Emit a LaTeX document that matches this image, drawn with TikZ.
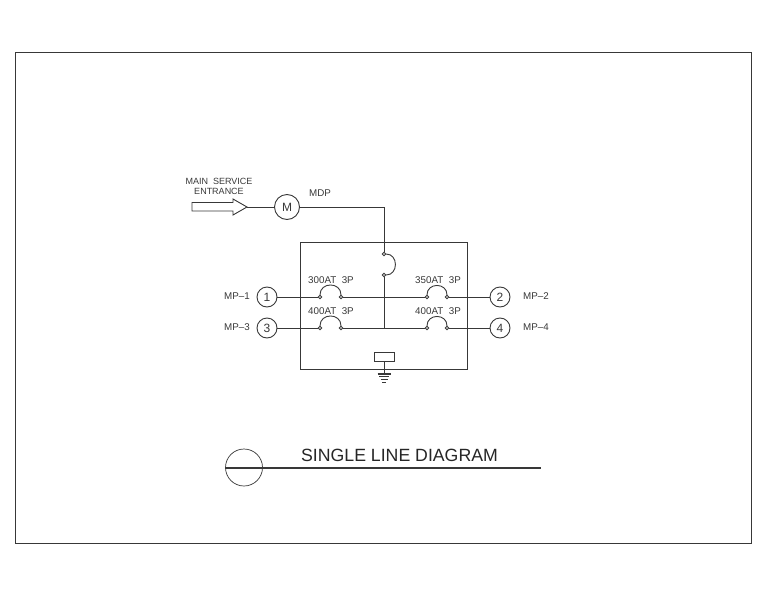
\documentclass[tikz,border=0pt]{standalone}
\usepackage{fontspec}
\setmainfont{Liberation Sans}
\definecolor{ink}{gray}{0.22}
\tikzset{
  wire/.style={draw=ink, line width=1pt},
  tag/.style={text=ink, font=\fontsize{9.8}{9.8}\selectfont, inner sep=0pt},
  numcircle/.style={draw=ink, line width=0.9pt, circle, minimum size=20pt, inner sep=0pt, text=ink, font=\fontsize{12}{12}\selectfont},
  pin/.style={draw=ink, line width=0.8pt, circle, minimum size=3.6pt, inner sep=0pt}
}
\begin{document}
\begin{tikzpicture}[x=1pt, y=-1pt]
    \useasboundingbox (0,0) rectangle (768,594);
    \node [draw=ink, line width=0.9pt, minimum width=736pt, minimum height=491pt, inner sep=0pt] (frame) at (383,297.5) {};
    \node [draw=ink, line width=0.9pt, minimum width=167pt, minimum height=127pt, inner sep=0pt] (panel) at (383.5,305.5) {};

    \begin{scope}[every node/.style={numcircle}]
      \node [minimum size=25pt] (m) at (287,207) {M};
      \node (n1) at (267,297) {1};
      \node (n3) at (267,328) {3};
      \node (n2) at (500,297) {2};
      \node (n4) at (500,328) {4};
    \end{scope}

    \begin{scope}[every node/.style={pin}]
      \node (a1) at (320,297) {};
      \node (b1) at (341,297) {};
      \node (a3) at (320,328) {};
      \node (b3) at (341,328) {};
      \node (a2) at (427,297) {};
      \node (b2) at (447,297) {};
      \node (a4) at (427,328) {};
      \node (b4) at (447,328) {};
      \node (top) at (384,254) {};
      \node (bot) at (384,275) {};
    \end{scope}

    \begin{scope}[every node/.style={tag}]
      \node [align=center, font=\fontsize{9}{9}\selectfont] (entrance) at (219,186.5) {MAIN\ \ SERVICE\\[0.3pt]ENTRANCE};
      \node (mdp) at (320,193) {MDP};
      \node (l1) at (331,280) {300AT\ \ 3P};
      \node (l3) at (331,311) {400AT\ \ 3P};
      \node (l2) at (438,280) {350AT\ \ 3P};
      \node (l4) at (438,311) {400AT\ \ 3P};
      \node (mp1) at (237,296) {MP--1};
      \node (mp3) at (237,327) {MP--3};
      \node (mp2) at (536,296) {MP--2};
      \node (mp4) at (536,327) {MP--4};
    \end{scope}

    % service arrow
    \coordinate (tip) at (247,207);
    \draw [draw=ink, line width=0.9pt] (192,202.5) -- (233,202.5) -- (233,199) -- (tip) -- (233,215) -- (233,211) -- (192,211) -- cycle;
    \draw [wire] (tip) -- (m);

    % bus
    \coordinate (corner) at (384,207);
    \coordinate (tee) at (384,328);
    \draw [wire] (m) -- (corner) -- (top);
    \draw [wire] (bot) -- (tee);
    \draw [wire] (n1) -- (a1) (b1) -- (a2) (b2) -- (n2);
    \draw [wire] (n3) -- (a3) (b3) -- (a4) (b4) -- (n4);

    % breakers
    \draw [wire, line width=0.9pt] (top) edge [out=0, in=0, looseness=1.5] (bot);
    \draw [wire, line width=0.9pt] (a1) edge [out=90, in=90, looseness=1.6] (b1);
    \draw [wire, line width=0.9pt] (a3) edge [out=90, in=90, looseness=1.6] (b3);
    \draw [wire, line width=0.9pt] (a2) edge [out=90, in=90, looseness=1.6] (b2);
    \draw [wire, line width=0.9pt] (a4) edge [out=90, in=90, looseness=1.6] (b4);

    % ground
    \node [draw=ink, line width=0.9pt, minimum width=20pt, minimum height=9.5pt, inner sep=0pt] (rod) at (384,357) {};
    \coordinate (gnd) at (384,374);
    \draw [wire] (rod) -- (gnd);
    \draw [draw=ink, line width=1.1pt] (377.5,374) -- (390.5,374) (379,376.8) -- (389,376.8) (380.5,379.6) -- (387.5,379.6) (382,382.2) -- (386,382.2);

    % title
    \node [draw=ink, line width=0.7pt, circle, minimum size=37pt, inner sep=0pt] (mark) at (244,467.5) {};
    \coordinate (rule) at (541,468);
    \draw [draw=ink, line width=1.3pt] (mark.west |- rule) -- (rule);
    \node [text=black!85, font=\fontsize{17.7}{17.7}\selectfont, inner sep=0pt] (title) at (399.5,455) {SINGLE LINE DIAGRAM};
\end{tikzpicture}
\end{document}
